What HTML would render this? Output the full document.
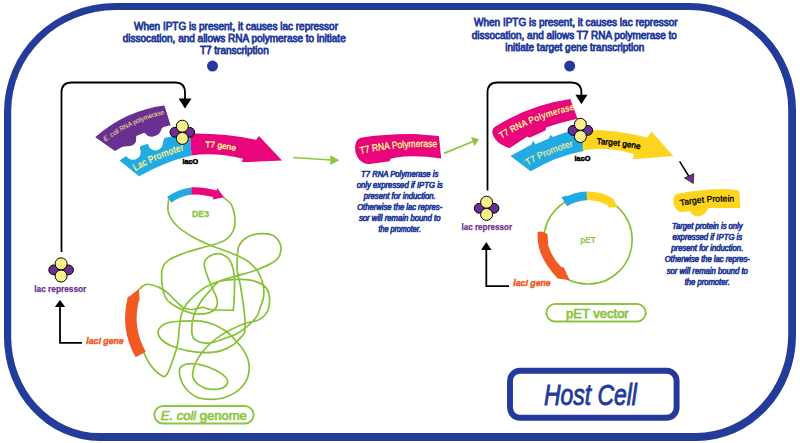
<!DOCTYPE html>
<html>
<head>
<meta charset="utf-8">
<title>pET expression system</title>
<style>
html,body{margin:0;padding:0;background:#fff;}
body{width:800px;height:443px;overflow:hidden;font-family:"Liberation Sans",sans-serif;}
svg{display:block;}
text{font-family:"Liberation Sans",sans-serif;}
.cap{fill:#233a9c;font-size:10.7px;text-anchor:middle;stroke:#233a9c;stroke-width:0.8px;}
.note{fill:#233a9c;font-size:8.5px;font-style:italic;text-anchor:middle;stroke:#233a9c;stroke-width:0.7px;}
.rep{fill:#6b2f91;font-size:9px;font-weight:bold;text-anchor:middle;stroke:#6b2f91;stroke-width:0.25px;}
.laci{fill:#f15a24;font-size:9.1px;font-style:italic;font-weight:bold;text-anchor:middle;stroke:#f15a24;stroke-width:0.45px;}
.laco{fill:#000;font-size:7.3px;font-weight:bold;text-anchor:middle;stroke:#000;stroke-width:0.55px;}
.grn{fill:#8cc63f;}
</style>
</head>
<body>
<svg width="800" height="443" viewBox="0 0 800 443">
<rect x="0" y="0" width="800" height="443" fill="#ffffff"/>

<!-- host cell outer border -->
<path id="border" d="M115.75 3.00 H690.25 A105.75 106.75 0 0 1 796.00 109.75 V335.25 A99.75 105.75 0 0 1 696.25 441.00 H99.75 A95.75 103.75 0 0 1 4.00 337.25 V111.75 A111.75 108.75 0 0 1 115.75 3.00 Z M115.45 10.00 H689.95 A98.25 99.25 0 0 1 788.20 109.25 V334.75 A92.25 98.25 0 0 1 695.95 433.00 H99.45 A88.25 96.25 0 0 1 11.20 336.75 V111.25 A104.25 101.25 0 0 1 115.45 10.00 Z" fill="#233b99" fill-rule="evenodd"/>

<!-- ================= LEFT BLOCK ================= -->
<g id="left-caption">
<text class="cap" x="236" y="30" textLength="204" lengthAdjust="spacingAndGlyphs">When IPTG is present, it causes lac repressor</text>
<text class="cap" x="234.2" y="42.4" textLength="223" lengthAdjust="spacingAndGlyphs">dissocation, and allows RNA polymerase to initiate</text>
<text class="cap" x="234.3" y="54" textLength="68.8" lengthAdjust="spacingAndGlyphs">T7 transcription</text>
<circle cx="212.5" cy="66.1" r="5.5" fill="#233a9c"/>
</g>

<!-- black feedback loop left -->
<path d="M61.5 252 V92.5 Q61.5 82.5 71.5 82.5 H175 Q185 82.5 185 92.5 V100" fill="none" stroke="#000" stroke-width="1.8"/>
<path d="M178.6 98.5 H191.6 L185 108.5 Z" fill="#000"/>

<defs>
<g id="complex">
<circle cx="-7.4" cy="0" r="4.9" fill="#6b2f91" stroke="#000" stroke-width="1"/>
<circle cx="7.4" cy="0" r="4.9" fill="#6b2f91" stroke="#000" stroke-width="1"/>
<circle cx="0" cy="-6.1" r="6" fill="#f9f08a" stroke="#000" stroke-width="1"/>
<circle cx="0" cy="6.1" r="6" fill="#f9f08a" stroke="#000" stroke-width="1"/>
</g>
<path id="tpEcoli" d="M105.3 141.6 Q132 121.8 167 113.4"/>
<path id="tpLac" d="M135.2 171.3 Q160 156.8 187 149.6"/>
<path id="tpT7gene" d="M205.3 147.2 Q222 147.4 240 152"/>
</defs>

<!-- purple E. coli RNA polymerase -->
<path d="M95.2 137.3 Q125 110.6 164.4 105.5 L170.6 125.2 L163.4 127 L161.6 128.8 Q160.5 134.5 153.5 136.6 Q147.3 137.2 145.3 133.3 L143.5 132.9 L136.3 136.1 L135.9 141.5 Q134.5 145.2 130 146 L122.4 146.8 L115 151.1 Z" fill="#6b2f91"/>
<text font-size="6.6" fill="#f9f08a"><textPath href="#tpEcoli" textLength="65.5" lengthAdjust="spacingAndGlyphs"><tspan font-style="italic">E. coli</tspan> RNA polymerase</textPath></text>

<!-- blue Lac promoter -->
<path d="M119.4 160.4 L126.3 155.9 A6.8 6.8 0 0 0 139.8 148.3 L140.5 146 L148.1 143.7 A6.6 6.6 0 0 0 162.9 142.4 L164.3 137.9 Q176 135 190 134 L191.5 155.5 Q166 161 139.1 176.3 Z" fill="#22aae2"/>
<text font-size="10.3" font-weight="bold" fill="#f9f08a"><textPath href="#tpLac" textLength="53.5" lengthAdjust="spacingAndGlyphs">Lac Promoter</textPath></text>

<!-- magenta T7 gene arrow -->
<path d="M190 133.5 Q225 133 256 139.7 L259 136 L282 160.6 L241.5 162.3 L243 158.8 Q215 152 191.5 155.5 Z" fill="#e7067c"/>
<text font-size="8.3" fill="#f9f08a" stroke="#f9f08a" stroke-width="0.4"><textPath href="#tpT7gene">T7 gene</textPath></text>

<use href="#complex" x="182.3" y="132.3"/>
<text class="laco" x="190.3" y="164.2">lacO</text>

<!-- green arrow left -> middle -->
<path d="M293 157.5 L331 160" fill="none" stroke="#8cc63f" stroke-width="1.6"/>
<path d="M330.3 155.2 L339.3 160.3 L330.3 164.9 Z" fill="#8cc63f"/>

<!-- genome tangle -->
<g id="genome" fill="none" stroke="#86c236" stroke-width="1.7" stroke-linejoin="round" stroke-linecap="round">
<path d="M168.6 199.5 C168.6 201.7 167.0 208.1 168.4 212.5 C169.8 216.9 172.9 221.9 177.0 226.0 C181.1 230.1 187.6 233.8 193.0 237.0 C198.4 240.2 203.3 242.3 209.6 245.0 C215.9 247.7 224.7 250.3 231.0 253.0 C237.3 255.7 243.1 257.9 247.5 261.0 C251.9 264.1 255.1 267.6 257.7 271.3 C260.2 275.0 261.8 279.3 262.8 283.4 C263.8 287.4 264.1 291.9 263.8 295.6 C263.5 299.3 262.2 302.1 260.8 305.8 C259.4 309.5 259.3 313.6 255.7 318.0 C252.1 322.4 244.5 328.8 239.4 332.2 C234.3 335.6 229.9 336.5 225.2 338.3 C220.5 340.1 215.1 342.1 211.0 342.8 C206.9 343.5 203.7 343.1 200.8 342.4 C197.9 341.6 195.2 340.3 193.7 338.3 C192.2 336.3 191.7 333.9 191.7 330.2 C191.7 326.5 192.2 320.8 193.7 316.0 C195.2 311.2 197.9 306.1 200.8 301.7 C203.7 297.3 208.0 292.9 211.0 289.5 C214.0 286.1 214.9 283.6 219.0 281.4 C223.1 279.2 229.2 278.2 235.3 276.3 C241.4 274.4 249.6 272.4 255.7 270.2 C261.8 268.0 267.9 265.5 271.9 263.1 C275.8 260.7 278.0 258.8 279.4 255.8 C280.8 252.8 281.5 248.4 280.5 245.0 C279.5 241.6 276.4 237.4 273.2 235.5 C269.9 233.6 265.3 233.4 261.0 233.6 C256.7 233.8 251.1 235.0 247.5 236.9 C243.9 238.8 241.1 242.0 239.4 245.0 C237.7 248.0 237.7 250.6 237.4 255.0 C237.1 259.4 236.9 266.2 237.4 271.3 C237.9 276.4 239.4 279.8 240.4 285.5 C241.4 291.2 242.7 299.7 243.5 305.8 C244.3 311.9 244.9 317.6 245.1 322.0 C245.3 326.4 245.1 329.8 244.5 332.2 C243.9 334.6 243.5 334.3 241.7 336.4 C239.9 338.4 237.0 342.1 233.6 344.5 C230.2 346.9 226.2 349.2 221.4 350.6 C216.7 352.0 210.8 352.6 205.1 352.6 C199.3 352.6 192.7 351.8 186.9 350.6 C181.2 349.4 175.0 347.5 170.6 345.5 C166.2 343.5 162.5 340.9 160.5 338.4 C158.5 335.9 157.4 332.8 158.4 330.3 C159.4 327.8 162.4 324.7 166.5 323.2 C170.6 321.7 177.0 321.5 182.8 321.2 C188.6 320.9 195.7 320.5 201.1 321.2 C206.5 321.9 210.9 323.3 215.3 325.2 C219.7 327.1 224.1 329.8 227.5 332.3 C230.9 334.9 232.9 337.4 235.6 340.5 C238.3 343.6 241.5 346.9 243.7 350.6 C245.9 354.3 248.1 358.4 248.8 362.8 C249.5 367.2 249.3 372.6 247.8 377.0 C246.3 381.4 243.3 385.8 239.6 389.2 C235.9 392.6 230.1 395.6 225.4 397.3 C220.7 399.0 215.9 399.3 211.2 399.3 C206.5 399.3 201.4 399.3 197.0 397.3 C192.6 395.3 187.7 390.9 184.8 387.2 C181.9 383.5 180.4 378.4 179.7 375.0 C179.0 371.6 179.3 368.8 180.8 366.9 C182.3 365.0 185.5 364.1 188.9 363.8 C192.3 363.5 196.7 363.8 201.1 364.8 C205.5 365.8 211.2 367.9 215.3 369.9 C219.4 371.9 223.4 374.8 225.4 377.0 C227.4 379.2 228.2 381.2 227.5 383.1 C226.8 385.0 224.5 387.2 221.4 388.2 C218.3 389.2 212.9 389.7 209.2 389.2 C205.5 388.7 201.7 387.1 199.0 385.1 C196.3 383.1 193.7 380.0 192.9 377.0 C192.1 374.0 193.0 370.3 194.0 366.9 C195.0 363.5 196.8 360.1 199.0 356.7 C201.2 353.3 203.8 349.9 207.2 346.5 C210.6 343.1 215.2 339.3 219.3 336.4 C223.4 333.5 227.1 331.5 231.5 329.3 C235.9 327.1 241.3 324.7 245.7 323.2 C250.1 321.7 254.5 321.7 257.9 320.2 C261.3 318.7 264.1 316.4 266.0 314.0 C267.9 311.6 268.6 309.2 269.1 305.8 C269.6 302.4 269.8 297.0 268.9 293.6 C268.0 290.2 266.7 287.7 263.8 285.5 C260.9 283.3 256.0 281.4 251.6 280.4 C247.2 279.4 242.8 279.2 237.4 279.4 C232.0 279.6 224.5 280.0 219.1 281.4 C213.7 282.8 209.0 285.1 204.9 287.5 C200.8 289.9 197.8 292.9 194.7 295.6 C191.6 298.3 188.8 300.8 186.6 303.8 C184.4 306.9 182.7 310.2 181.5 313.9 C180.3 317.6 180.2 320.9 179.5 326.1 C178.8 331.3 178.6 339.2 177.4 345.0 C176.2 350.8 174.4 355.8 172.6 360.8 C170.8 365.8 168.5 372.6 166.5 375.0 C164.5 377.4 163.2 376.7 160.5 375.0 C157.8 373.3 153.1 368.6 150.3 364.8 C147.5 361.0 144.7 354.3 143.6 352.2"/>
<path d="M139.3 289.3 C140.5 288.5 143.2 284.6 146.5 284.3 C149.8 284.0 155.8 286.1 159.4 287.6 C163.0 289.1 165.5 291.3 168.2 293.5 C170.9 295.7 172.8 298.3 175.4 300.7 C178.0 303.1 180.6 306.3 183.5 307.8 C186.4 309.3 189.5 309.6 192.7 309.5 C195.9 309.4 199.8 307.4 202.8 307.4 C205.9 307.4 205.9 309.0 211.0 309.5 C216.1 310.0 229.6 310.2 233.3 310.3"/>
<path d="M233.3 310.3 C233.5 307.9 234.1 301.4 234.3 295.6 C234.5 289.8 234.8 280.7 234.3 275.3 C233.8 269.9 232.5 266.1 231.3 263.1 C230.1 260.1 229.5 258.8 227.2 257.2 C224.9 255.6 220.9 253.6 217.7 253.6 C214.5 253.6 210.4 255.5 208.2 257.2 C205.9 258.9 204.2 260.6 204.2 264.0 C204.1 267.4 206.4 273.1 207.9 277.4 C209.4 281.6 211.5 285.8 213.0 289.5 C214.5 293.2 216.6 296.6 217.1 299.7 C217.6 302.8 217.4 305.6 216.0 307.8 C214.6 310.0 212.5 311.9 208.9 312.9 C205.3 313.9 199.1 314.4 194.7 313.9 C190.3 313.4 186.5 311.7 182.5 309.9 C178.5 308.1 173.4 305.1 170.5 303.0 C167.6 300.9 166.6 299.9 165.2 297.0 C163.8 294.1 162.7 290.1 162.2 285.5 C161.7 280.9 161.1 273.5 162.2 269.2 C163.3 264.9 164.7 262.8 169.0 259.9 C173.3 257.0 181.1 254.2 187.9 251.8 C194.7 249.5 203.3 247.8 209.6 245.8 C215.9 243.8 221.7 242.4 225.8 239.6 C229.9 236.8 232.6 232.8 234.0 228.7 C235.4 224.6 235.0 219.2 234.5 215.2 C234.0 211.1 233.0 207.3 231.2 204.4 C229.4 201.5 224.9 198.7 223.7 197.6"/>
</g>

<!-- DE3 arc -->
<path d="M169.3 199.8 Q179 192.6 191.6 191" fill="none" stroke="#22aae2" stroke-width="7.3"/>
<path d="M191.4 191 Q204 190.4 217.5 194.6" fill="none" stroke="#e7067c" stroke-width="7.3"/>
<path d="M217.3 188.3 L224 197.3 L212.5 199.4 Z" fill="#e7067c"/>
<text x="200.5" y="216.5" text-anchor="middle" font-size="8.8" font-weight="bold" fill="#8cc63f" stroke="#8cc63f" stroke-width="0.3">DE3</text>

<!-- orange lacI gene (genome) -->
<path d="M133.6 298 Q125.6 328 140.7 354.5" fill="none" stroke="#f15a24" stroke-width="11.6"/>
<path d="M126.8 298.6 L139 288.8 L139.6 301 Z" fill="#f15a24"/>
<text class="laci" x="105" y="343.6" textLength="37.4" lengthAdjust="spacingAndGlyphs">lacI gene</text>
<path d="M82 342.8 H60 V306" fill="none" stroke="#000" stroke-width="1.8"/>
<path d="M54.8 307 H65.2 L60 300 Z" fill="#000"/>

<!-- lac repressor (left) -->
<use href="#complex" x="61.1" y="269.9"/>
<text class="rep" x="60.3" y="292.3" textLength="52" lengthAdjust="spacingAndGlyphs">lac repressor</text>

<!-- E. coli genome label -->
<rect x="154.3" y="406.1" width="99.3" height="17.5" rx="8.75" ry="8.75" fill="#fff" stroke="#8cc63f" stroke-width="2"/>
<text x="203.8" y="419.6" text-anchor="middle" font-size="13" fill="#8cc63f" stroke="#8cc63f" stroke-width="0.7"><tspan font-style="italic">E. coli</tspan> genome</text>

<!-- ================= MIDDLE ================= -->
<path id="tpMid" d="M360.5 154 Q398 145.5 438 147.3" fill="none"/>
<path d="M360.6 137.8 Q387 133.6 415 134.1 L438.9 136 L441.2 158.6 Q415 154.4 396.3 157.5 L390.5 158.7 L389.7 161.3 L368.1 164.3 Q358 162.5 355.4 152 Q353.8 140 360.6 137.8 Z" fill="#e7067c"/>
<text font-size="9.8" fill="#f9f08a" stroke="#f9f08a" stroke-width="0.35"><textPath href="#tpMid" textLength="77" lengthAdjust="spacingAndGlyphs">T7 RNA Polymerase</textPath></text>
<text class="note" x="399.7" y="176.5" textLength="77.2" lengthAdjust="spacingAndGlyphs">T7 RNA Polymerase is</text>
<text class="note" x="399.7" y="187.7" textLength="86.1" lengthAdjust="spacingAndGlyphs">only expressed if IPTG is</text>
<text class="note" x="399.7" y="198.7" textLength="72.1" lengthAdjust="spacingAndGlyphs">present for induction.</text>
<text class="note" x="399.7" y="209.5" textLength="85.0" lengthAdjust="spacingAndGlyphs">Otherwise the lac repres-</text>
<text class="note" x="399.7" y="220.5" textLength="81.5" lengthAdjust="spacingAndGlyphs">sor will remain bound to</text>
<text class="note" x="399.7" y="231.5" textLength="42.5" lengthAdjust="spacingAndGlyphs">the promoter.</text>
<path d="M444.1 153.4 L473 141.5" fill="none" stroke="#8cc63f" stroke-width="1.7"/>
<path d="M471.1 137.1 L479.2 139.3 L474.4 146.1 Z" fill="#8cc63f"/>

<!-- ================= RIGHT BLOCK ================= -->
<text class="cap" x="575.8" y="26.2" textLength="203.5" lengthAdjust="spacingAndGlyphs">When IPTG is present, it causes lac repressor</text>
<text class="cap" x="574.3" y="38.9" textLength="205" lengthAdjust="spacingAndGlyphs">dissocation, and allows T7 RNA polymerase to</text>
<text class="cap" x="574.8" y="51.4" textLength="139" lengthAdjust="spacingAndGlyphs">initiate target gene transcription</text>
<circle cx="569.7" cy="66.1" r="5.5" fill="#233a9c"/>

<path d="M487.5 190.5 V92.5 Q487.5 82.5 497.5 82.5 H571 Q581.4 82.5 581.4 92.5 V96" fill="none" stroke="#000" stroke-width="1.8"/>
<path d="M575.4 94.8 H587.4 L581.4 104.2 Z" fill="#000"/>

<path id="tpR1" d="M501.5 139 Q533 119 578 109" fill="none"/>
<path id="tpR2" d="M527.6 165.8 Q548.5 152.5 574.5 146.2" fill="none"/>
<path id="tpR3" d="M596.6 143.9 Q620 145.2 643 149.8" fill="none"/>
<!-- magenta T7 RNA polymerase (right) -->
<path d="M494.3 127.3 Q529 105 570.3 99.1 L577.6 118.8 Q560 122.6 546.2 127.6 L545.4 130.4 L529.6 137.8 L527.4 136.6 L509.4 148.2 Q499 144.5 496 140 Q489.5 131.5 494.3 127.3 Z" fill="#e7067c"/>
<text font-size="9.6" font-weight="bold" fill="#f9f08a"><textPath href="#tpR1" textLength="79.5" lengthAdjust="spacingAndGlyphs">T7 RNA Polymerase</textPath></text>
<!-- blue T7 promoter -->
<path d="M510.4 156 L531.5 144.4 L533.1 140.8 L535.4 144.2 L549 138.5 L550.4 135.1 L553 137 Q568 131 582.5 128.6 L583.5 150.9 Q556 156 530.7 171.2 Z" fill="#22aae2"/>
<text font-size="9.2" fill="#f9f08a" stroke="#f9f08a" stroke-width="0.15"><textPath href="#tpR2" textLength="50" lengthAdjust="spacingAndGlyphs">T7 Promoter</textPath></text>
<!-- yellow target gene -->
<path d="M582.4 129.4 Q617 129.4 647.9 137.6 L651.3 131.6 L673.4 156 L632.8 159.2 L634.4 154.2 Q607 146 582.8 150.4 Z" fill="#fed41f"/>
<text font-size="8.3" fill="#000" stroke="#000" stroke-width="0.4"><textPath href="#tpR3">Target gene</textPath></text>
<use href="#complex" x="580.4" y="130.4"/>
<text class="laco" x="582.5" y="161.3">lacO</text>

<!-- arrow to target protein -->
<path d="M679.6 161.4 L689 176.5" fill="none" stroke="#000" stroke-width="1.5"/>
<path d="M684.4 178 L693.8 173.6 L693.3 183.6 Z" fill="#6b2f91" stroke="#000" stroke-width="0.6"/>
<path id="tpTP" d="M680.5 205.9 Q707 200.5 735 201.7" fill="none"/>
<path d="M677.4 193.7 Q700 189 727.2 189 L739.3 190.6 L740.4 207.9 L708.9 207.9 Q704 216.5 697.7 216.6 Q692 216 689.6 210.9 Q684 212.5 680.5 211.9 Q674 210 673.3 201.5 Q673 195 677.4 193.7 Z" fill="#fed41f"/>
<text font-size="8.7" fill="#000" stroke="#000" stroke-width="0.3"><textPath href="#tpTP" textLength="54" lengthAdjust="spacingAndGlyphs">Target Protein</textPath></text>
<text class="note" x="707.3" y="229.1" textLength="70.7" lengthAdjust="spacingAndGlyphs">Target protein is only</text>
<text class="note" x="707.3" y="240.0" textLength="69.8" lengthAdjust="spacingAndGlyphs">expressed if IPTG is</text>
<text class="note" x="707.3" y="251.1" textLength="72.0" lengthAdjust="spacingAndGlyphs">present for induction.</text>
<text class="note" x="707.3" y="262.3" textLength="85.2" lengthAdjust="spacingAndGlyphs">Otherwise the lac repres-</text>
<text class="note" x="707.3" y="273.7" textLength="81.2" lengthAdjust="spacingAndGlyphs">sor will remain bound to</text>
<text class="note" x="707.3" y="285.3" textLength="45.1" lengthAdjust="spacingAndGlyphs">the promoter.</text>

<!-- lac repressor (right) -->
<use href="#complex" x="486.6" y="208.3"/>
<text class="rep" x="486.8" y="229.7" textLength="50.6" lengthAdjust="spacingAndGlyphs">lac repressor</text>
<path d="M509 286.2 H486.3 V249" fill="none" stroke="#000" stroke-width="1.8"/>
<path d="M481.1 250 H491.5 L486.3 242 Z" fill="#000"/>
<text class="laci" x="532" y="286.1" textLength="37.4" lengthAdjust="spacingAndGlyphs">lacI gene</text>

<!-- pET plasmid -->
<circle cx="588" cy="239.85" r="44.2" fill="none" stroke="#86c236" stroke-width="1.6"/>
<path d="M564.7 202.5 A44 44 0 0 1 586.9 195.86" fill="none" stroke="#22aae2" stroke-width="8.6"/>
<path d="M561.1 197.2 L567 195.5 L566 201.5 Z" fill="#22aae2"/>
<path d="M586.9 195.86 A44 44 0 0 1 610 201.75" fill="none" stroke="#fed41f" stroke-width="8.6"/>
<path d="M611 199 L612.7 198.1 L617.6 207.3 L609 207.6 L606.5 204 Z" fill="#fed41f"/>
<path d="M537.6 232.3 Q537 244 541 254 Q546 266 557.6 278.4 L569.8 280.2 L563.6 267.2 L561.2 266.9 Q551.5 257 548.2 245.3 L547.6 234.2 Q542 230.3 537.6 232.3 Z" fill="#f15a24"/>
<text x="588" y="242.8" text-anchor="middle" font-size="8.3" font-weight="bold" fill="#8cc63f">pET</text>
<rect x="546.4" y="304.1" width="99.3" height="17.5" rx="8.75" ry="8.75" fill="#fff" stroke="#8cc63f" stroke-width="2"/>
<text x="597.4" y="318.1" text-anchor="middle" font-size="13" fill="#8cc63f" stroke="#8cc63f" stroke-width="0.75">pET vector</text>

<!-- HOST CELL label -->
<rect x="510" y="370.8" width="166.6" height="47" rx="10" ry="10" fill="#fff" stroke="#233a9c" stroke-width="5.9"/>
<text x="590.4" y="405.1" text-anchor="middle" font-size="28.6" font-style="italic" fill="#233a9c" stroke="#233a9c" stroke-width="0.9" textLength="93" lengthAdjust="spacingAndGlyphs">Host Cell</text>

</svg>
</body>
</html>
